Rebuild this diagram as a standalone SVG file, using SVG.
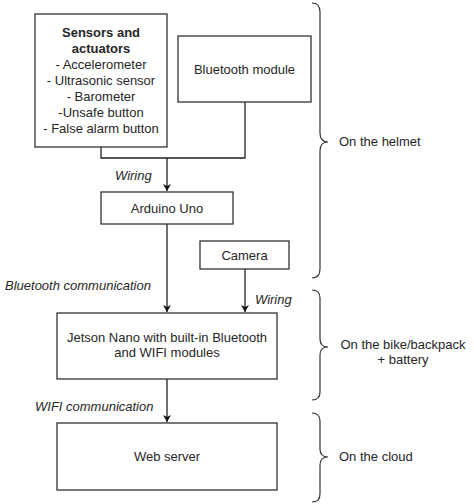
<svg xmlns="http://www.w3.org/2000/svg" width="474" height="504" viewBox="0 0 474 504">
<defs>
<marker id="arr" markerWidth="10" markerHeight="10" refX="8" refY="5" orient="auto" markerUnits="userSpaceOnUse">
<path d="M1,1 L8,5 L1,9 L3,5 Z" fill="#111"/>
</marker>
<style>
.box{fill:#fff;stroke:#333;stroke-width:1.3}
.t{font-family:"Liberation Sans",Arial,sans-serif;font-size:13px;fill:#262626;text-anchor:middle}
.b{font-weight:bold}
.i{font-style:italic;text-anchor:start}
.ln{fill:none;stroke:#222;stroke-width:1.3}
.br{fill:none;stroke:#333;stroke-width:1.2}
</style>
</defs>
<rect width="474" height="504" fill="#fff"/>
<g id="connectors">
<path class="ln" d="M101,147 V158 H245 V102"/>
<path class="ln" d="M167,158 V191" marker-end="url(#arr)"/>
<path class="ln" d="M167,224 V312" marker-end="url(#arr)"/>
<path class="ln" d="M245,269 V312" marker-end="url(#arr)"/>
<path class="ln" d="M167,379 V422" marker-end="url(#arr)"/>
<text class="t i" x="115" y="180">Wiring</text>
<text class="t i" x="5" y="290">Bluetooth communication</text>
<text class="t i" x="255" y="304">Wiring</text>
<text class="t i" x="35" y="411">WIFI communication</text>
</g>
<g id="sensors">
<rect class="box" x="35" y="14" width="132" height="133"/>
<text class="t b" x="101" y="37">Sensors and</text>
<text class="t b" x="101" y="53">actuators</text>
<text class="t" x="101" y="69">- Accelerometer</text>
<text class="t" x="101" y="85">- Ultrasonic sensor</text>
<text class="t" x="101" y="101">- Barometer</text>
<text class="t" x="101" y="117">-Unsafe button</text>
<text class="t" x="101" y="133">- False alarm button</text>
</g>
<g id="bluetooth">
<rect class="box" x="178" y="36" width="133" height="66"/>
<text class="t" x="244.5" y="74">Bluetooth module</text>
</g>
<g id="arduino">
<rect class="box" x="101" y="192" width="132" height="32"/>
<text class="t" x="167" y="212.5">Arduino Uno</text>
</g>
<g id="camera">
<rect class="box" x="200" y="241" width="89" height="28"/>
<text class="t" x="244.5" y="259.5">Camera</text>
</g>
<g id="jetson">
<rect class="box" x="57" y="313" width="220" height="66"/>
<text class="t" x="167" y="342">Jetson Nano with built-in Bluetooth</text>
<text class="t" x="167" y="357">and WIFI modules</text>
</g>
<g id="webserver">
<rect class="box" x="57" y="423" width="220" height="67"/>
<text class="t" x="167" y="461">Web server</text>
</g>
<g id="helmet">
<path class="br" d="M312,3 Q320,3 320,12 V133 Q320,142 328,142 Q320,142 320,151 V269 Q320,278 312,278"/>
<text class="t" x="339" y="146" style="text-anchor:start">On the helmet</text>
</g>
<g id="bike">
<path class="br" d="M312,290 Q320,290 320,298 V339 Q320,347 328,347 Q320,347 320,355 V392 Q320,400 312,400"/>
<text class="t" x="403" y="349">On the bike/backpack</text>
<text class="t" x="403" y="364">+ battery</text>
</g>
<g id="cloud">
<path class="br" d="M312,413 Q320,413 320,421 V449 Q320,457 328,457 Q320,457 320,465 V494 Q320,502 312,502"/>
<text class="t" x="339" y="461" style="text-anchor:start">On the cloud</text>
</g>
</svg>
